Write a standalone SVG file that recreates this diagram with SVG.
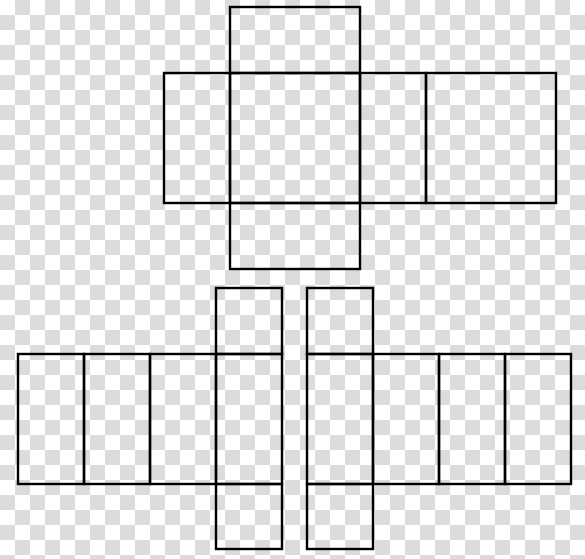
<svg xmlns="http://www.w3.org/2000/svg" width="585" height="559" viewBox="0 0 585 559">
  <defs>
    <pattern id="checker" x="0" y="0" width="30" height="30" patternUnits="userSpaceOnUse">
      <rect x="0" y="0" width="30" height="30" fill="#ffffff"/>
      <rect x="15" y="0" width="15" height="15" fill="#dcdcdc"/>
      <rect x="0" y="15" width="15" height="15" fill="#dcdcdc"/>
    </pattern>
  </defs>
  <style>
    .box { fill: none; stroke: #000000; stroke-width: 2.4; }
  </style>
  <rect x="0" y="0" width="585" height="559" fill="url(#checker)"/>

  <g id="torso">
    <rect class="box" x="230" y="7" width="130" height="66"/>
    <rect class="box" x="164" y="73" width="66" height="130"/>
    <rect class="box" x="230" y="73" width="130" height="130"/>
    <rect class="box" x="360" y="73" width="66" height="130"/>
    <rect class="box" x="426" y="73" width="130" height="130"/>
    <rect class="box" x="230" y="203" width="130" height="66"/>
  </g>

  <g id="left-arm">
    <rect class="box" x="216" y="288" width="66" height="66"/>
    <rect class="box" x="18" y="354" width="66" height="130"/>
    <rect class="box" x="84" y="354" width="66" height="130"/>
    <rect class="box" x="150" y="354" width="66" height="130"/>
    <rect class="box" x="216" y="354" width="66" height="130"/>
    <rect class="box" x="216" y="484" width="66" height="65"/>
  </g>

  <g id="right-arm">
    <rect class="box" x="307" y="288" width="66" height="66"/>
    <rect class="box" x="307" y="354" width="66" height="130"/>
    <rect class="box" x="373" y="354" width="66" height="130"/>
    <rect class="box" x="439" y="354" width="66" height="130"/>
    <rect class="box" x="505" y="354" width="66" height="130"/>
    <rect class="box" x="307" y="484" width="66" height="65"/>
  </g>
</svg>
